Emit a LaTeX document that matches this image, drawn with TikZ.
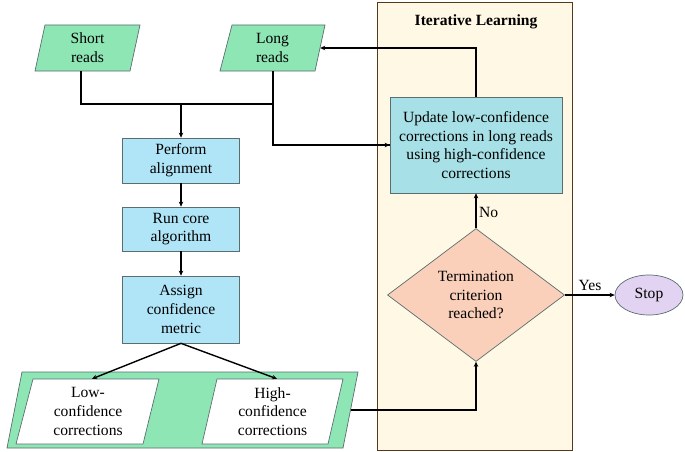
\documentclass[tikz,border=0pt]{standalone}
\usepackage{fontspec}
\setmainfont{Liberation Serif}
\usetikzlibrary{shapes.geometric,arrows.meta}
\definecolor{mint}{HTML}{8EE6B5}
\definecolor{skyb}{HTML}{B0E5F8}
\definecolor{tealb}{HTML}{A7E0E6}
\definecolor{salmon}{HTML}{FAD0BA}
\definecolor{lav}{HTML}{E2D3F2}
\definecolor{cream}{HTML}{FFF8E4}
\definecolor{edge}{HTML}{5A6E70}
\begin{document}
\begin{tikzpicture}[x=1pt,y=-1pt,
  txt/.style={font=\fontsize{15.6}{18.8}\selectfont, align=center, inner sep=0pt},
  box/.style={txt, draw=edge, line width=0.7pt, rectangle},
  para/.style={draw=edge, line width=0.7pt},
  conn/.style={line width=1.4pt, black},
  arr/.style={conn, -{Stealth[length=5pt,width=4.5pt]}}]
\useasboundingbox (0,0) rectangle (685,452);
% iterative learning panel
\draw[fill=cream, draw=black!55!brown, line width=0.8pt] (377,2) rectangle (572,450);
\node[txt, font=\fontsize{15.6}{18.8}\selectfont\bfseries] (title) at (476,22) {Iterative Learning};
% input parallelograms
\draw[para, fill=mint] (45,25) -- (140,25) -- (130,71) -- (35,71) -- cycle;
\node[txt, minimum width=95, minimum height=46] (sr) at (87.5,48) {Short\\reads};
\draw[para, fill=mint] (232,25) -- (325,25) -- (315,71) -- (220,71) -- cycle;
\node[txt, minimum width=95, minimum height=46] (lr) at (272.5,48) {Long\\reads};
% process boxes
\node[box, fill=skyb, minimum width=117, minimum height=45] (pa) at (181,160.5) {Perform\\alignment};
\node[box, fill=skyb, minimum width=117, minimum height=44] (rc) at (181,229) {Run core\\algorithm};
\node[box, fill=skyb, minimum width=117, minimum height=67] (ac) at (181,309.5) {Assign\\confidence\\metric};
% corrections
\draw[para, fill=mint] (22,372) -- (358,372) -- (343,448) -- (7,448) -- cycle;
\node[minimum width=336, minimum height=76, inner sep=0pt] (corr) at (182.5,410) {};
\draw[para, fill=white] (33,379) -- (159,379) -- (143,444) -- (16,444) -- cycle;
\node[txt, minimum width=126, minimum height=65] (low) at (88,411.5) {Low-\\confidence\\corrections};
\draw[para, fill=white] (217,379) -- (343,379) -- (328,444) -- (202,444) -- cycle;
\node[txt, minimum width=126, minimum height=65] (high) at (272.5,411.5) {High-\\confidence\\corrections};
% iterative part
\node[box, fill=tealb, minimum width=172, minimum height=96] (up) at (476,145) {Update low-confidence\\corrections in long reads\\using high-confidence\\corrections};
\node[txt, diamond, draw=edge, line width=0.7pt, fill=salmon, minimum width=177, minimum height=133] (term) at (476,295) {Termination\\criterion\\reached?};
\node[txt, ellipse, draw=edge, line width=0.7pt, fill=lav, minimum width=68, minimum height=40] (stop) at (649,295) {Stop};
% connectors
\coordinate (j1) at (81,104);
\coordinate (j2) at (273,104);
\coordinate (j3) at (181,104);
\draw[conn] ([xshift=-6.5pt]sr.south) -- (j1) -- (j2);
\draw[conn] ([xshift=0.5pt]lr.south) -- (j2) -- (273,145) -- (up.west);
\draw[arr] (273,145) -- (up.west);
\draw[arr] (j3) -- (pa.north);
\draw[arr] (pa.south) -- (rc.north);
\draw[arr] (rc.south) -- (ac.north);
\draw[arr] (ac.south) -- ([xshift=4pt]low.north);
\draw[arr] (ac.south) -- ([xshift=4.5pt]high.north);
\draw[arr] (corr.east) -- (term.south |- corr.east) -- (term.south);
\draw[arr] (term.north) -- (up.south);
\node[txt, anchor=west] (no) at (479,212) {No};
\draw[arr] (term.east) -- (stop.west);
\node[txt] (yes) at (590,285) {Yes};
\draw[arr] (up.north) -- (up.north |- lr.east) -- (lr.east);
\end{tikzpicture}
\end{document}
